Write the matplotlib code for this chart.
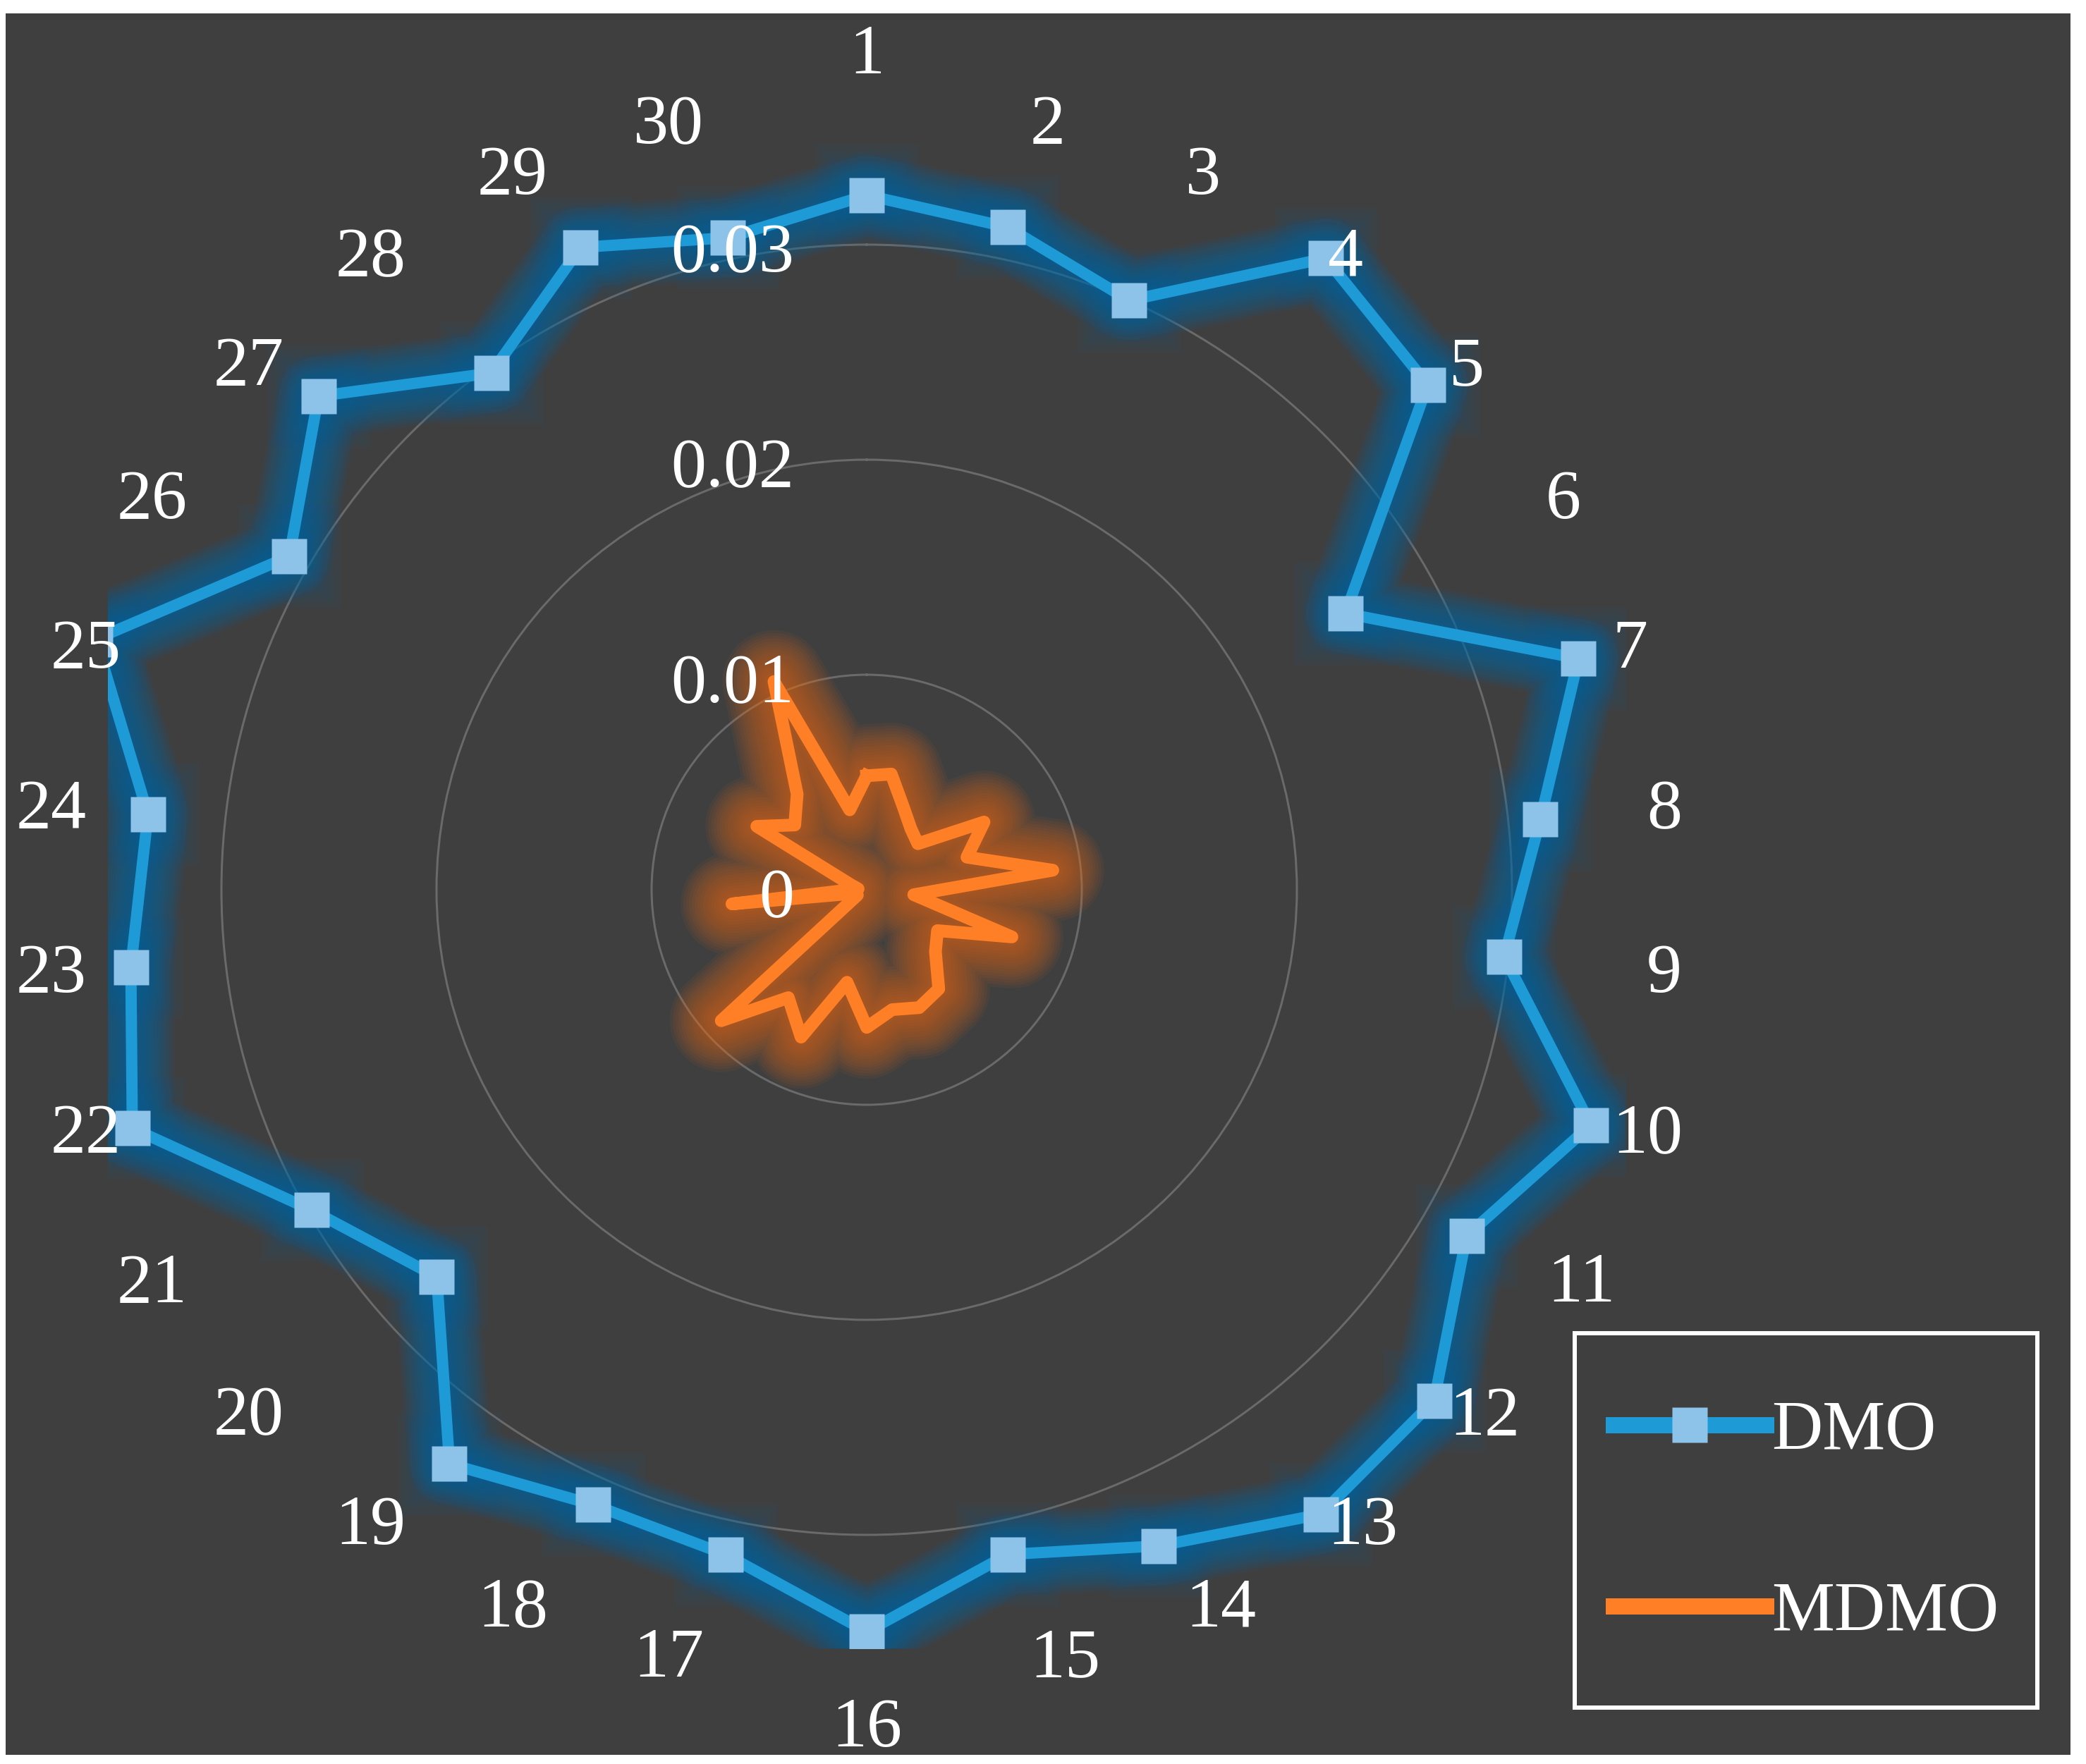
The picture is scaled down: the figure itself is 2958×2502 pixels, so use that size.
import numpy as np
import matplotlib
matplotlib.use('Agg')
import matplotlib.pyplot as plt
from matplotlib.patches import Rectangle
from matplotlib.lines import Line2D


# data
categories = [str(i) for i in range(1, 31)]
dmo = [0.0323, 0.0315, 0.0300, 0.0363, 0.0351, 0.0257, 0.0348, 0.0315, 0.0298, 0.0354,
       0.0322, 0.0355, 0.0359, 0.0334, 0.0316, 0.0345, 0.0316, 0.0313, 0.0330, 0.0269,
       0.0298, 0.0359, 0.0344, 0.0336, 0.0377, 0.0310, 0.0343, 0.0297, 0.0327, 0.0310]
mdmo = [0.0053, 0.0055, 0.0042, 0.0035, 0.0032, 0.0063, 0.0049, 0.0087, 0.0022, 0.0071,
        0.0038, 0.0043, 0.0057, 0.0060, 0.0057, 0.0064, 0.0044, 0.0075, 0.0062, 0.0091,
        0.0005, 0.0005, 0.0063, 0.0004, 0.0008, 0.0059, 0.0045, 0.0055, 0.0106, 0.0038]
r_ticks = [0, 0.01, 0.02, 0.03]
r_tick_labels = ['0', '0.01', '0.02', '0.03']
series_names = ['DMO', 'MDMO']

W, H, DPI = 2958, 2502, 100
BG = '#3F3F3F'
BLUE = '#1E9BD7'
BLUE_GLOW = '#0068A8'
BLUE_MARK = '#8DC3E8'
ORANGE = '#FF7F27'
ORANGE_GLOW = '#E0691A'
GRID = '#6A6A6A'
FONT = 'Liberation Serif'
FS = 72

CX, CY = 1229, 1262      # centre of the radar, pixels from top-left
PX_PER_UNIT = 30500      # 0.01 -> 305 px
RMAX = 0.04


def pt(v):
    return v * 72.0 / DPI


def fx(x):
    return x / W


def fy(y):
    return 1 - y / H


fig = plt.figure(figsize=(W / DPI, H / DPI), dpi=DPI, facecolor='white')
fig.patches.append(Rectangle((fx(8), fy(2489)), (2936 - 8) / W, (2489 - 19) / H,
                             transform=fig.transFigure, facecolor=BG, edgecolor='none', zorder=-5))

R = RMAX * PX_PER_UNIT
ax = fig.add_axes([fx(CX - R), fy(CY + R), 2 * R / W, 2 * R / H], projection='polar')
ax.set_theta_zero_location('N')
ax.set_theta_direction(-1)
ax.set_ylim(0, RMAX)
ax.patch.set_visible(False)
ax.spines['polar'].set_visible(False)
ax.set_xticks([])
ax.set_yticks(r_ticks[1:])
ax.set_yticklabels([])
ax.yaxis.grid(True, color=GRID, lw=pt(3))
ax.tick_params(length=0)

# Excel plot area clips the series at a square around the centre
half = 1076
clip = Rectangle((fx(CX - half), fy(CY + half)), 2 * half / W, 2 * half / H,
                 transform=fig.transFigure, facecolor='none', edgecolor='none')

theta = np.arange(len(categories)) * 2 * np.pi / len(categories)
th_c = np.append(theta, theta[0])


def glow_series(values, color, glow, galpha, reach, lw_px, marker_px=0, mcolor=None):
    r_c = np.append(values, values[0])
    arts = []
    for d in range(reach, 0, -4):
        arts += ax.plot(th_c, r_c, color=glow, lw=pt(lw_px + 2 * d), alpha=galpha,
                        solid_joinstyle='round', solid_capstyle='round', zorder=2)
        if marker_px and d % 8 == 0:
            arts += ax.plot(theta, values, ls='none', marker='s', ms=pt(marker_px + 2 * d),
                            mfc=glow, mec='none', alpha=galpha * 0.6, zorder=2)
    arts += ax.plot(th_c, r_c, color=color, lw=pt(lw_px), solid_joinstyle='round', zorder=3)
    if marker_px:
        arts += ax.plot(theta, values, ls='none', marker='s', ms=pt(marker_px),
                        mfc=mcolor, mec='none', zorder=4)
    for a in arts:
        a.set_clip_path(clip)


glow_series(dmo, BLUE, BLUE_GLOW, 0.085, 52, 16, 50, BLUE_MARK)
glow_series(mdmo, ORANGE, ORANGE_GLOW, 0.065, 64, 18)

# category labels around the outside (Excel places the label box just outside the ring)
for i, lab in enumerate(categories):
    t = theta[i]
    s, c = np.sin(t), np.cos(t)
    if abs(s) < 0.01:
        dx, dy = 0, 1112 * c + 75 * np.sign(c) + 6
    else:
        dx, dy = 1112 * s + 25 * len(lab) * np.sign(s), 1112 * c + 6
    ax.annotate(lab, xy=(0, 0), xytext=(dx, dy), textcoords='offset pixels',
                ha='center', va='center_baseline', color='white', fontsize=FS,
                family=FONT, zorder=6, annotation_clip=False)

# value axis labels
for v, lab in zip(r_ticks, r_tick_labels):
    ax.annotate(lab, xy=(0, v), xytext=(-103, -4), textcoords='offset pixels',
                ha='right', va='center_baseline', color='white', fontsize=FS,
                family=FONT, zorder=6, annotation_clip=False)

# legend box
fig.patches.append(Rectangle((fx(2233), fy(2422)), (2889 - 2233) / W, (2422 - 1891) / H,
                             transform=fig.transFigure, facecolor='none', edgecolor='white',
                             lw=pt(6), zorder=5))
legend_rows = [2021, 2278]
legend_styles = [dict(color=BLUE, marker='s', ms=pt(50), mfc=BLUE_MARK, mec='none', markevery=[1]),
                 dict(color=ORANGE)]
for name, yy, sty in zip(series_names, legend_rows, legend_styles):
    fig.add_artist(Line2D([fx(2288), fx(2396), fx(2504)], [fy(yy)] * 3, lw=pt(23),
                          transform=fig.transFigure, zorder=6, **sty))
    fig.text(fx(2512), fy(yy), name, ha='left', va='center_baseline', color='white',
             fontsize=FS, family=FONT, zorder=6)

fig.savefig('out.png', dpi=DPI, facecolor='white')
